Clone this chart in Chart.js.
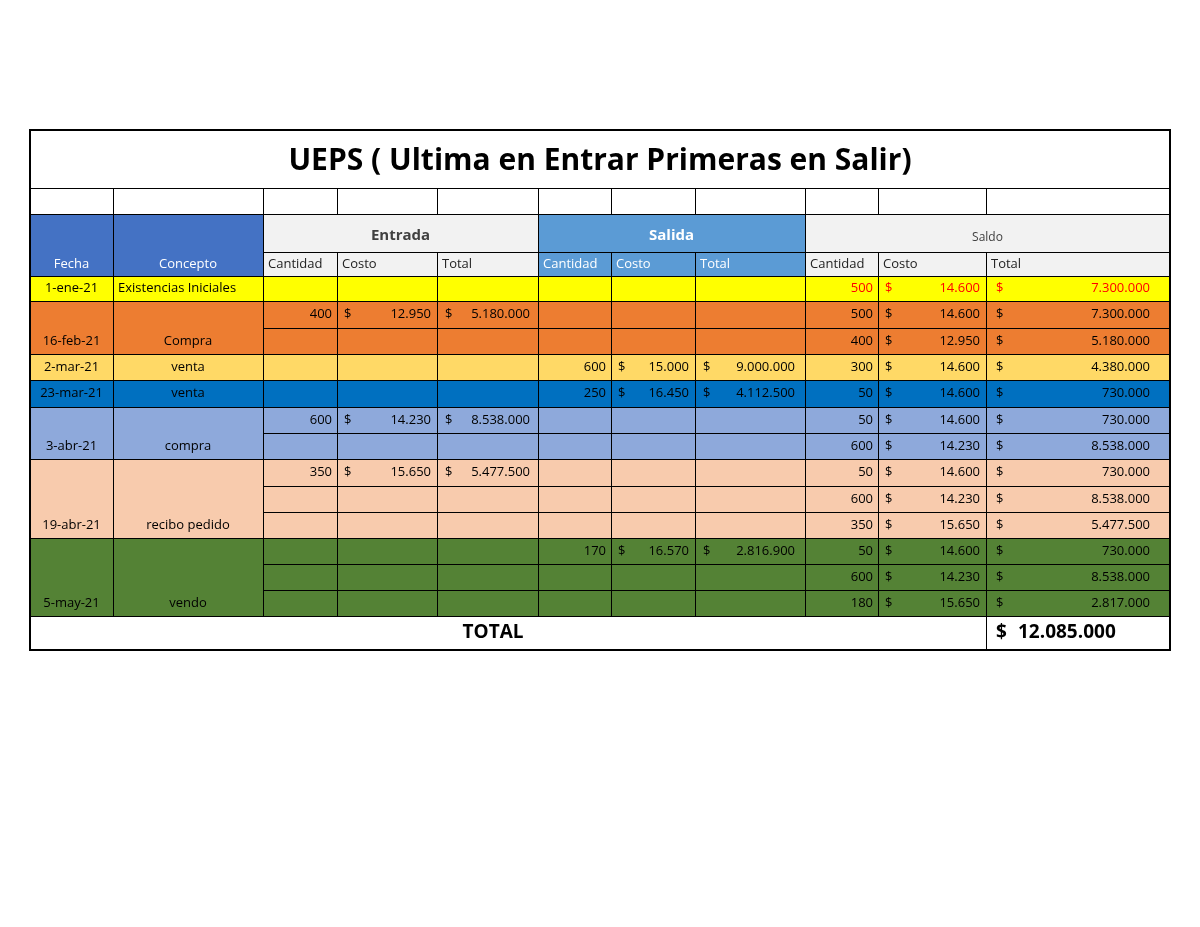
<!DOCTYPE html>
<html><head><meta charset="utf-8">
<script src="https://cdn.jsdelivr.net/npm/chart.js@4"></script>
<style>html,body{margin:0;padding:0;background:#fff}#w{width:1200px;height:927px}</style>
</head><body><div id="w"><canvas id="c"></canvas></div>
<script>
// ---- data ----
const title = "UEPS ( Ultima en Entrar Primeras en Salir)";
const dates = ["1-ene-21","16-feb-21","2-mar-21","23-mar-21","3-abr-21","19-abr-21","5-may-21"];
const concepts = ["Existencias Iniciales","Compra","venta","venta","compra","recibo pedido","vendo"];
const groupSize = [1,2,1,1,2,3,3];
const entCant  = [null,400,null,null,null,600,null,350,null,null,null,null,null];
const entCosto = [null,12950,null,null,null,14230,null,15650,null,null,null,null,null];
const entTotal = [null,5180000,null,null,null,8538000,null,5477500,null,null,null,null,null];
const salCant  = [null,null,null,600,250,null,null,null,null,null,170,null,null];
const salCosto = [null,null,null,15000,16450,null,null,null,null,null,16570,null,null];
const salTotal = [null,null,null,9000000,4112500,null,null,null,null,null,2816900,null,null];
const sdoCant  = [500,500,400,300,50,50,600,50,600,350,50,600,180];
const sdoCosto = [14600,14600,12950,14600,14600,14600,14230,14600,14230,15650,14600,14230,15650];
const sdoTotal = [7300000,7300000,5180000,4380000,730000,730000,8538000,730000,8538000,5477500,730000,8538000,2817000];
const grandTotal = 12085000;
const subHeaders = ["Cantidad","Costo","Total"];

// ---- layout / style ----
const groupColors = ["#FFFF00","#ED7D31","#FFD966","#0070C0","#8EA9DB","#F8CBAD","#548235"];
const colX = [30,113,263,337,437,538,611,695,805,878,986,1170];
const rowY = [130,188,214,252,276,301,328,354,380,407,433,459,486,512,538,564,590,616,650];
const FONT = '"Open Sans", sans-serif';
const fmt = n => String(n).replace(/\B(?=(\d{3})+(?!\d))/g, ".");

const tablePlugin = {
  id:'table',
  afterDraw(chart){
    const ctx = chart.ctx, sx = chart.scales.x, sy = chart.scales.y;
    const X = i => sx.getPixelForValue(colX[i]);
    const Y = i => sy.getPixelForValue(rowY[i]);
    const rect = (c0,r0,c1,r1,fill) => { ctx.fillStyle=fill; ctx.fillRect(X(c0),Y(r0),X(c1)-X(c0),Y(r1)-Y(r0)); };
    const box = (c0,r0,c1,r1) => { ctx.strokeRect(X(c0)+0.5,Y(r0)+0.5,X(c1)-X(c0),Y(r1)-Y(r0)); };
    const txt = (s,x,y,align,color,font) => { ctx.font=font||('13px '+FONT); ctx.fillStyle=color||'#000'; ctx.textAlign=align; ctx.textBaseline='middle'; ctx.fillText(s,x,y); };
    const midY = r => (Y(r)+Y(r+1))/2;
    ctx.save();
    // header fills
    rect(0,2,2,4,'#4472C4');
    rect(2,2,5,4,'#F2F2F2');
    rect(5,2,8,4,'#5B9BD5');
    rect(8,2,11,4,'#F2F2F2');
    // group fills
    let r = 4;
    groupSize.forEach((g,gi)=>{ rect(0,r,11,r+g,groupColors[gi]); r+=g; });
    // grid lines
    ctx.strokeStyle='#000'; ctx.lineWidth=1;
    for(let c=0;c<11;c++) box(c,1,c+1,2);
    box(0,2,1,4); box(1,2,2,4);
    box(2,2,5,3); box(5,2,8,3); box(8,2,11,3);
    for(let c=2;c<11;c++) box(c,3,c+1,4);
    r = 4;
    groupSize.forEach(g=>{
      box(0,r,1,r+g); box(1,r,2,r+g);
      for(let k=0;k<g;k++) for(let c=2;c<11;c++) box(c,r+k,c+1,r+k+1);
      r+=g;
    });
    box(0,17,10,18); box(10,17,11,18);
    ctx.lineWidth=2; ctx.strokeRect(X(0),Y(0),X(11)-X(0),Y(18)-Y(0));
    ctx.lineWidth=1; ctx.beginPath(); ctx.moveTo(X(0),Y(1)+0.5); ctx.lineTo(X(11),Y(1)+0.5); ctx.stroke();
    // title
    txt(title,(X(0)+X(11))/2,midY(0)+2,'center','#000','bold 30px '+FONT);
    // headers
    txt("Fecha",(X(0)+X(1))/2,midY(3),'center','#fff');
    txt("Concepto",(X(1)+X(2))/2,midY(3),'center','#fff');
    txt("Entrada",(X(2)+X(5))/2,midY(2)+3,'center','#404040','bold 15px '+FONT);
    txt("Salida",(X(5)+X(8))/2,midY(2)+3,'center','#fff','bold 15px '+FONT);
    txt("Saldo",(X(8)+X(11))/2,midY(2)+5,'center','#404040','12px '+FONT);
    [[2,'#222'],[5,'#fff'],[8,'#222']].forEach(([c0,col])=>{
      subHeaders.forEach((s,i)=>txt(s,X(c0+i)+5,midY(3),'left',col));
    });
    // groups
    r = 4;
    groupSize.forEach((g,gi)=>{
      const last = r+g-1;
      txt(dates[gi],(X(0)+X(1))/2,midY(last),'center');
      if(gi===0) txt(concepts[gi],X(1)+5,midY(last),'left');
      else txt(concepts[gi],(X(1)+X(2))/2,midY(last),'center');
      r+=g;
    });
    // data rows
    const triple = (row,c0,q,cst,tot,col,totPadL,totRight) => {
      const y = midY(row);
      if(q!=null) txt(String(q),X(c0+1)-5,y,'right',col);
      if(cst!=null){ txt('$',X(c0+1)+7,y,'left',col); txt(fmt(cst),X(c0+2)-6,y,'right',col); }
      if(tot!=null){ txt('$',X(c0+2)+totPadL,y,'left',col); txt(fmt(tot),X(c0+3)-totRight,y,'right',col); }
    };
    for(let i=0;i<sdoCant.length;i++){
      const row = 4+i, col = i===0?'#FF0000':'#000';
      triple(row,2,entCant[i],entCosto[i],entTotal[i],col,8,8);
      triple(row,5,salCant[i],salCosto[i],salTotal[i],col,8,10);
      triple(row,8,sdoCant[i],sdoCosto[i],sdoTotal[i],col,10,20);
    }
    // total row
    txt("TOTAL",(X(0)+X(10))/2-15,midY(17),'center','#000','bold 19px '+FONT);
    txt("$",X(10)+10,midY(17),'left','#000','bold 19px '+FONT);
    txt(fmt(grandTotal),X(10)+32,midY(17),'left','#000','bold 19px '+FONT);
    ctx.restore();
  }
};

new Chart(document.getElementById('c'),{
  type:'scatter',
  data:{datasets:[{data:[]}]},
  options:{
    responsive:true, maintainAspectRatio:false, animation:false,
    layout:{padding:0},
    plugins:{legend:{display:false},tooltip:{enabled:false}},
    scales:{
      x:{type:'linear',min:0,max:1200,display:false},
      y:{type:'linear',min:0,max:927,reverse:true,display:false}
    }
  },
  plugins:[tablePlugin]
});
</script></body></html>
